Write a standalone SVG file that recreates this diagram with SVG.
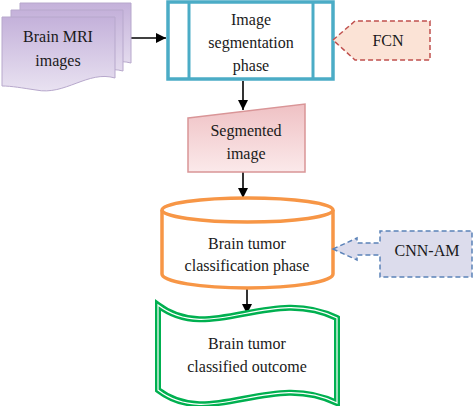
<svg xmlns="http://www.w3.org/2000/svg" width="474" height="406" viewBox="0 0 474 406">
<defs>
<linearGradient id="gDoc" x1="0" y1="0" x2="0" y2="1">
<stop offset="0" stop-color="#c4b1da"/>
<stop offset="1" stop-color="#e9e2f1"/>
</linearGradient>
<linearGradient id="gSeg" x1="0" y1="0" x2="0" y2="1">
<stop offset="0" stop-color="#efc1c4"/>
<stop offset="1" stop-color="#fbe9ea"/>
</linearGradient>
<marker id="ah" viewBox="0 0 10 10" refX="10" refY="5" markerWidth="10" markerHeight="10" markerUnits="userSpaceOnUse" orient="auto">
<path d="M0,0 L10,5 L0,10 z" fill="#000"/>
</marker>
</defs>
<style>
text{font-family:'Liberation Serif','Times New Roman','DejaVu Serif',serif;font-size:16px;fill:#1a1a1a;text-anchor:middle}
.doc{fill:url(#gDoc);stroke:#b7a8cc;stroke-width:1}
.conn{stroke:#000;stroke-width:1.6;fill:none;marker-end:url(#ah)}
</style>
<rect width="474" height="406" fill="#fff"/>
<g id="connectors">
<line class="conn" x1="118" y1="38" x2="166" y2="38"/>
<line class="conn" x1="243" y1="81" x2="243" y2="110"/>
<line class="conn" x1="243" y1="172" x2="243" y2="198"/>
<line class="conn" x1="247" y1="288" x2="247" y2="314"/>
</g>
<g id="brain-mri">
<path class="doc" d="M20,3 H131 V63 C105,56 80,78 50,73 C38,71 28,70 20,70 Z"/>
<path class="doc" d="M11,10 H123 V71 C97,64 72,86 42,81 C30,79 20,78 11,78 Z"/>
<path class="doc" d="M2,17 H115 V78 C88,70 65,96 36,90 C22,88 12,86 2,86 Z"/>
<text x="58" y="42">Brain MRI</text>
<text x="58" y="66">images</text>
</g>
<g id="image-segmentation">
<rect x="168" y="2" width="165" height="77" fill="#fff" stroke="#4bacc6" stroke-width="3.5"/>
<line x1="189" y1="2" x2="189" y2="79" stroke="#4bacc6" stroke-width="3"/>
<line x1="313" y1="2" x2="313" y2="79" stroke="#4bacc6" stroke-width="3"/>
<text x="251" y="25">Image</text>
<text x="251" y="48">segmentation</text>
<text x="251" y="71">phase</text>
</g>
<g id="fcn">
<path d="M333,40 L355,21 H430 V60 H355 Z" fill="#fbe3d6" stroke="#c0504d" stroke-width="1.5" stroke-dasharray="5,3"/>
<text x="388" y="46">FCN</text>
</g>
<g id="segmented-image">
<path d="M188,118 L305,104 V172 H188 Z" fill="url(#gSeg)" stroke="#d99597" stroke-width="1.5"/>
<text x="246" y="136">Segmented</text>
<text x="246" y="159">image</text>
</g>
<g id="classification">
<path d="M162,210 V274 A85.5,14 0 0 0 333,274 V210" fill="#fff" stroke="#f79646" stroke-width="3.5"/>
<ellipse cx="247.5" cy="210" rx="85.5" ry="12" fill="#fff" stroke="#f79646" stroke-width="3.5"/>
<text x="247" y="249">Brain tumor</text>
<text x="247" y="271">classification phase</text>
</g>
<g id="cnn-am">
<path d="M333,249 L357,238 V243 H380 V231 H472 V277 H380 V255 H357 V260 Z" fill="#dcdcec" stroke="#5b82b8" stroke-width="1.5" stroke-dasharray="5,3"/>
<text x="427" y="256">CNN-AM</text>
</g>
<g id="outcome">
<path d="M158,305 C210,345 270,285 337,318 V403 C270,370 210,430 158,390 Z" fill="#fff" stroke="#00b050" stroke-width="6"/>
<path d="M158,305 C210,345 270,285 337,318 V403 C270,370 210,430 158,390 Z" fill="none" stroke="#fff" stroke-width="1.2"/>
<text x="247" y="349">Brain tumor</text>
<text x="247" y="372">classified outcome</text>
</g>
</svg>
